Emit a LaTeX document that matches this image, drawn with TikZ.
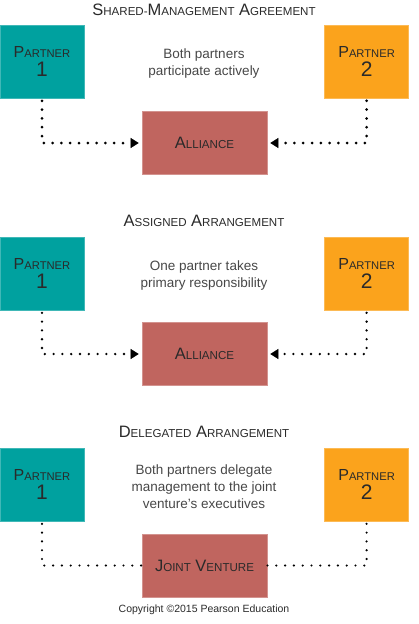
\documentclass[tikz,border=0pt]{standalone}
\usepackage{fontspec}
\setmainfont{Liberation Sans}
\usetikzlibrary{arrows.meta, positioning}
\definecolor{tealP}{HTML}{00A19F}
\definecolor{orangeP}{HTML}{FBA31C}
\definecolor{roseV}{HTML}{C0655F}
\definecolor{inkT}{HTML}{2A2A2A}
\definecolor{inkN}{HTML}{474747}
\newcommand{\fakesc}[2]{#1\scalebox{0.7}{#2}}
\tikzset{
  partnerA/.style={rectangle, minimum width=84pt, minimum height=73pt, inner sep=0pt, fill=tealP, draw=tealP!75!white, line width=0.6pt, text=inkT, align=center, font=\fontsize{16}{19}\selectfont},
  partnerB/.style={partnerA, fill=orangeP, draw=orangeP!75!white},
  venture/.style={rectangle, minimum width=125pt, minimum height=63pt, inner sep=0pt, fill=roseV, draw=roseV!70!white, line width=0.6pt, text=inkT, font=\fontsize{16.5}{18}\selectfont},
  heading/.style={anchor=base, text=inkT, inner sep=0pt, font=\fontsize{16.5}{18}\selectfont},
  note/.style={align=center, text=inkN, inner sep=0pt, font=\fontsize{13.5}{17}\selectfont},
  dotline/.style={line width=3pt, line cap=round, dash pattern=on 0pt off 8.8pt, shorten <=2.5pt},
  dotarrow/.style={dotline, -{Triangle[length=8pt, width=10pt, line width=0.4pt]}, shorten >=3pt}
}

\begin{document}
\begin{tikzpicture}[x=1pt, y=-1pt]
\useasboundingbox (0,0) rectangle (419,624);

% Shared management
\node[heading] (title1) at (204,15) {\fakesc{S}{HARED-}\fakesc{M}{ANAGEMENT} \fakesc{A}{GREEMENT}};
\node[partnerA] (pa1) at (42,61.5) {\fakesc{P}{ARTNER}\\{\fontsize{21}{19}\selectfont 1}};
\node[partnerB, right=240pt of pa1] (pb1) {\fakesc{P}{ARTNER}\\{\fontsize{21}{19}\selectfont 2}};
\node[note] (note1) at (204,64) {Both partners\\participate actively};
\node[venture] (al1) at (204.5,143) {\fakesc{A}{LLIANCE}};
\draw[dotarrow] (pa1.south) |- (al1.west);
\draw[dotarrow] (pb1.south) |- (al1.east);

% Assigned arrangement
\node[heading] (title2) at (204,226) {\fakesc{A}{SSIGNED} \fakesc{A}{RRANGEMENT}};
\node[partnerA] (pa2) at (42,273.5) {\fakesc{P}{ARTNER}\\{\fontsize{21}{19}\selectfont 1}};
\node[partnerB, right=240pt of pa2] (pb2) {\fakesc{P}{ARTNER}\\{\fontsize{21}{19}\selectfont 2}};
\node[note] (note2) at (204,276) {One partner takes\\primary responsibility};
\node[venture] (al2) at (204.5,354) {\fakesc{A}{LLIANCE}};
\draw[dotarrow, line width=2.6pt] (pa2.south) |- (al2.west);
\draw[dotarrow, line width=2.6pt] (pb2.south) |- (al2.east);

% Delegated arrangement
\node[heading] (title3) at (204,437) {\fakesc{D}{ELEGATED} \fakesc{A}{RRANGEMENT}};
\node[partnerA] (pa3) at (42,484.5) {\fakesc{P}{ARTNER}\\{\fontsize{21}{19}\selectfont 1}};
\node[partnerB, right=240pt of pa3] (pb3) {\fakesc{P}{ARTNER}\\{\fontsize{21}{19}\selectfont 2}};
\node[note] (note3) at (204,487) {Both partners delegate\\management to the joint\\venture's executives};
\node[venture] (jv) at (204.5,565.5) {\fakesc{J}{OINT} \fakesc{V}{ENTURE}};
\draw[dotline, line width=2.4pt] (pa3.south) |- (jv.west);
\draw[dotline, line width=2.4pt] (pb3.south) |- (jv.east);

\node[text=inkT, font=\fontsize{10.5}{12}\selectfont] (copy) at (204,610) {Copyright \textcopyright 2015 Pearson Education};
\end{tikzpicture}
\end{document}
